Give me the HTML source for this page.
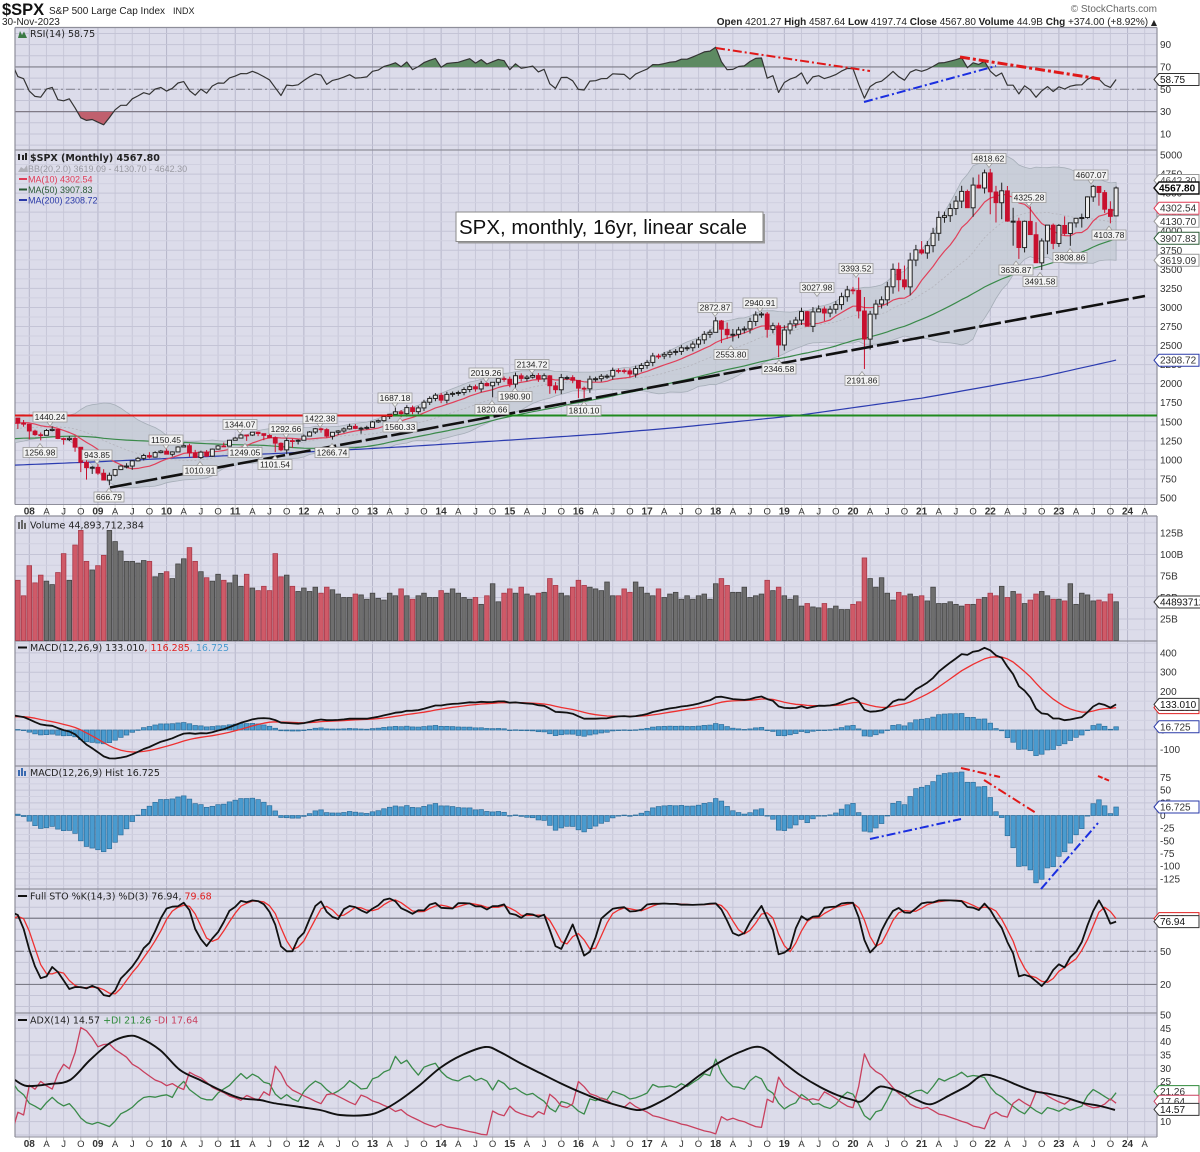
<!DOCTYPE html>
<html><head><meta charset="utf-8">
<style>
html,body{margin:0;padding:0;background:#fff;}
svg{display:block;}
text{font-family:"Liberation Sans",Arial,sans-serif;}
.lg{font-family:"DejaVu Sans","Liberation Sans",sans-serif;font-size:9.5px;fill:#222;}
.sm{font-family:"Liberation Sans",Arial,sans-serif;font-size:9px;}
.ax{font-size:10px;fill:#333;}
.pl{font-size:8.5px;fill:#222;}
.xl{font-size:9.5px;fill:#333;}
.b{font-weight:bold;font-size:10px;}
.vb text{font-size:10px;}
</style></head><body>
<svg id="c" width="1200" height="1152" viewBox="0 0 1200 1152" xmlns="http://www.w3.org/2000/svg">
<defs>
<clipPath id="cRsi"><rect x="15" y="27.5" width="1142" height="122.5"/></clipPath>
<clipPath id="cRsiHi"><rect x="15" y="27.5" width="1142" height="39.5"/></clipPath>
<clipPath id="cRsiLo"><rect x="15" y="111.7" width="1142" height="38.3"/></clipPath>
<clipPath id="cPrice"><rect x="15" y="150" width="1142" height="354.5"/></clipPath>
<clipPath id="cVol"><rect x="15" y="516" width="1142" height="125"/></clipPath>
<clipPath id="cMacd"><rect x="15" y="641" width="1142" height="125"/></clipPath>
<clipPath id="cHist"><rect x="15" y="766" width="1142" height="123"/></clipPath>
<clipPath id="cSto"><rect x="15" y="889" width="1142" height="124"/></clipPath>
<clipPath id="cAdx"><rect x="15" y="1013" width="1142" height="124"/></clipPath>
</defs>
<rect x="0" y="0" width="1200" height="1152" fill="#fff"/>
<g id="bg"></g>
<g id="grid"></g>
<g id="ser"></g>

<!-- horizontal support/resistance lines -->
<line x1="15" y1="415.5" x2="393" y2="415.5" stroke="#e01818" stroke-width="2"/>
<line x1="393" y1="415.5" x2="1157" y2="415.5" stroke="#1f8a1f" stroke-width="2"/>
<!-- trendline -->
<line x1="110" y1="487.5" x2="1145" y2="296" stroke="#111" stroke-width="2.6" stroke-dasharray="22 4"/>

<!-- RSI annotations -->
<line x1="716" y1="48" x2="870" y2="71" stroke="#e01818" stroke-width="2" stroke-dasharray="9 3 2 3"/>
<line x1="864" y1="102" x2="996" y2="66" stroke="#1a2ee0" stroke-width="2" stroke-dasharray="9 3 2 3"/>
<line x1="960" y1="57" x2="1100" y2="79" stroke="#e01818" stroke-width="3" stroke-dasharray="10 3 3 3"/>

<!-- Hist annotations -->
<line x1="870" y1="839" x2="961" y2="819" stroke="#1a2ee0" stroke-width="2" stroke-dasharray="9 3 2 3"/>
<line x1="961" y1="768" x2="1000" y2="777" stroke="#e01818" stroke-width="2" stroke-dasharray="9 3 2 3"/>
<line x1="984" y1="780" x2="1036" y2="813" stroke="#e01818" stroke-width="2" stroke-dasharray="9 3 2 3"/>
<line x1="1041" y1="889" x2="1098" y2="823" stroke="#1a2ee0" stroke-width="2" stroke-dasharray="9 3 2 3"/>
<line x1="1098" y1="776" x2="1110" y2="781" stroke="#e01818" stroke-width="2" stroke-dasharray="5 2"/>

<!-- Title box -->
<rect x="458" y="214" width="307" height="29.5" fill="#9a9a9a"/>
<rect x="456" y="212" width="307" height="29.5" fill="#fff" stroke="#8a8a8a" stroke-width="1"/>
<text x="459" y="234" font-size="20.5" fill="#111">SPX, monthly, 16yr, linear scale</text>

<!-- Price annotation labels -->
<g id="plabels" stroke-width="0.8">
<g><rect x="33" y="412" width="34" height="10" fill="#f2f2f2" stroke="#9a9a9a"/><path d="M47,422L50,426L53,422Z" fill="#f2f2f2" stroke="#9a9a9a"/><text class="pl" x="50" y="420" text-anchor="middle">1440.24</text></g>
<g><rect x="23" y="447.5" width="34" height="10" fill="#f2f2f2" stroke="#9a9a9a"/><path d="M37,447.5L40,443.5L43,447.5Z" fill="#f2f2f2" stroke="#9a9a9a"/><text class="pl" x="40" y="455.5" text-anchor="middle">1256.98</text></g>
<g><rect x="82" y="450" width="30" height="10" fill="#f2f2f2" stroke="#9a9a9a"/><path d="M94,460L97,464L100,460Z" fill="#f2f2f2" stroke="#9a9a9a"/><text class="pl" x="97" y="458" text-anchor="middle">943.85</text></g>
<g><rect x="94" y="492" width="30" height="10" fill="#f2f2f2" stroke="#9a9a9a"/><path d="M106,492L109,488L112,492Z" fill="#f2f2f2" stroke="#9a9a9a"/><text class="pl" x="109" y="500" text-anchor="middle">666.79</text></g>
<g><rect x="149" y="435" width="34" height="10" fill="#f2f2f2" stroke="#9a9a9a"/><path d="M163,445L166,449L169,445Z" fill="#f2f2f2" stroke="#9a9a9a"/><text class="pl" x="166" y="443" text-anchor="middle">1150.45</text></g>
<g><rect x="183" y="465.5" width="34" height="10" fill="#f2f2f2" stroke="#9a9a9a"/><path d="M197,465.5L200,461.5L203,465.5Z" fill="#f2f2f2" stroke="#9a9a9a"/><text class="pl" x="200" y="473.5" text-anchor="middle">1010.91</text></g>
<g><rect x="223" y="419.5" width="34" height="10" fill="#f2f2f2" stroke="#9a9a9a"/><path d="M237,429.5L240,433.5L243,429.5Z" fill="#f2f2f2" stroke="#9a9a9a"/><text class="pl" x="240" y="427.5" text-anchor="middle">1344.07</text></g>
<g><rect x="228" y="447.5" width="34" height="10" fill="#f2f2f2" stroke="#9a9a9a"/><path d="M242,447.5L245,443.5L248,447.5Z" fill="#f2f2f2" stroke="#9a9a9a"/><text class="pl" x="245" y="455.5" text-anchor="middle">1249.05</text></g>
<g><rect x="269" y="424" width="34" height="10" fill="#f2f2f2" stroke="#9a9a9a"/><path d="M283,434L286,438L289,434Z" fill="#f2f2f2" stroke="#9a9a9a"/><text class="pl" x="286" y="432" text-anchor="middle">1292.66</text></g>
<g><rect x="258" y="459.5" width="34" height="10" fill="#f2f2f2" stroke="#9a9a9a"/><path d="M272,459.5L275,455.5L278,459.5Z" fill="#f2f2f2" stroke="#9a9a9a"/><text class="pl" x="275" y="467.5" text-anchor="middle">1101.54</text></g>
<g><rect x="303" y="413.5" width="34" height="10" fill="#f2f2f2" stroke="#9a9a9a"/><path d="M317,423.5L320,427.5L323,423.5Z" fill="#f2f2f2" stroke="#9a9a9a"/><text class="pl" x="320" y="421.5" text-anchor="middle">1422.38</text></g>
<g><rect x="315" y="447.5" width="34" height="10" fill="#f2f2f2" stroke="#9a9a9a"/><path d="M329,447.5L332,443.5L335,447.5Z" fill="#f2f2f2" stroke="#9a9a9a"/><text class="pl" x="332" y="455.5" text-anchor="middle">1266.74</text></g>
<g><rect x="378" y="393" width="34" height="10" fill="#f2f2f2" stroke="#9a9a9a"/><path d="M392,403L395,407L398,403Z" fill="#f2f2f2" stroke="#9a9a9a"/><text class="pl" x="395" y="401" text-anchor="middle">1687.18</text></g>
<g><rect x="383" y="422" width="34" height="10" fill="#f2f2f2" stroke="#9a9a9a"/><path d="M397,422L400,418L403,422Z" fill="#f2f2f2" stroke="#9a9a9a"/><text class="pl" x="400" y="430" text-anchor="middle">1560.33</text></g>
<g><rect x="469" y="368" width="34" height="10" fill="#f2f2f2" stroke="#9a9a9a"/><path d="M483,378L486,382L489,378Z" fill="#f2f2f2" stroke="#9a9a9a"/><text class="pl" x="486" y="376" text-anchor="middle">2019.26</text></g>
<g><rect x="475" y="404.5" width="34" height="10" fill="#f2f2f2" stroke="#9a9a9a"/><path d="M489,404.5L492,400.5L495,404.5Z" fill="#f2f2f2" stroke="#9a9a9a"/><text class="pl" x="492" y="412.5" text-anchor="middle">1820.66</text></g>
<g><rect x="498" y="391.5" width="34" height="10" fill="#f2f2f2" stroke="#9a9a9a"/><path d="M512,391.5L515,387.5L518,391.5Z" fill="#f2f2f2" stroke="#9a9a9a"/><text class="pl" x="515" y="399.5" text-anchor="middle">1980.90</text></g>
<g><rect x="515" y="359.5" width="34" height="10" fill="#f2f2f2" stroke="#9a9a9a"/><path d="M529,369.5L532,373.5L535,369.5Z" fill="#f2f2f2" stroke="#9a9a9a"/><text class="pl" x="532" y="367.5" text-anchor="middle">2134.72</text></g>
<g><rect x="567" y="405.5" width="34" height="10" fill="#f2f2f2" stroke="#9a9a9a"/><path d="M581,405.5L584,401.5L587,405.5Z" fill="#f2f2f2" stroke="#9a9a9a"/><text class="pl" x="584" y="413.5" text-anchor="middle">1810.10</text></g>
<g><rect x="698" y="302.5" width="34" height="10" fill="#f2f2f2" stroke="#9a9a9a"/><path d="M712,312.5L715,316.5L718,312.5Z" fill="#f2f2f2" stroke="#9a9a9a"/><text class="pl" x="715" y="310.5" text-anchor="middle">2872.87</text></g>
<g><rect x="714" y="349.5" width="34" height="10" fill="#f2f2f2" stroke="#9a9a9a"/><path d="M728,349.5L731,345.5L734,349.5Z" fill="#f2f2f2" stroke="#9a9a9a"/><text class="pl" x="731" y="357.5" text-anchor="middle">2553.80</text></g>
<g><rect x="743" y="298" width="34" height="10" fill="#f2f2f2" stroke="#9a9a9a"/><path d="M757,308L760,312L763,308Z" fill="#f2f2f2" stroke="#9a9a9a"/><text class="pl" x="760" y="306" text-anchor="middle">2940.91</text></g>
<g><rect x="762" y="364" width="34" height="10" fill="#f2f2f2" stroke="#9a9a9a"/><path d="M776,364L779,360L782,364Z" fill="#f2f2f2" stroke="#9a9a9a"/><text class="pl" x="779" y="372" text-anchor="middle">2346.58</text></g>
<g><rect x="800" y="282.5" width="34" height="10" fill="#f2f2f2" stroke="#9a9a9a"/><path d="M814,292.5L817,296.5L820,292.5Z" fill="#f2f2f2" stroke="#9a9a9a"/><text class="pl" x="817" y="290.5" text-anchor="middle">3027.98</text></g>
<g><rect x="839" y="263.5" width="34" height="10" fill="#f2f2f2" stroke="#9a9a9a"/><path d="M853,273.5L856,277.5L859,273.5Z" fill="#f2f2f2" stroke="#9a9a9a"/><text class="pl" x="856" y="271.5" text-anchor="middle">3393.52</text></g>
<g><rect x="845" y="375.5" width="34" height="10" fill="#f2f2f2" stroke="#9a9a9a"/><path d="M859,375.5L862,371.5L865,375.5Z" fill="#f2f2f2" stroke="#9a9a9a"/><text class="pl" x="862" y="383.5" text-anchor="middle">2191.86</text></g>
<g><rect x="972" y="153.5" width="34" height="10" fill="#f2f2f2" stroke="#9a9a9a"/><path d="M986,163.5L989,167.5L992,163.5Z" fill="#f2f2f2" stroke="#9a9a9a"/><text class="pl" x="989" y="161.5" text-anchor="middle">4818.62</text></g>
<g><rect x="1012" y="192.5" width="34" height="10" fill="#f2f2f2" stroke="#9a9a9a"/><path d="M1026,202.5L1029,206.5L1032,202.5Z" fill="#f2f2f2" stroke="#9a9a9a"/><text class="pl" x="1029" y="200.5" text-anchor="middle">4325.28</text></g>
<g><rect x="999" y="265" width="34" height="10" fill="#f2f2f2" stroke="#9a9a9a"/><path d="M1013,265L1016,261L1019,265Z" fill="#f2f2f2" stroke="#9a9a9a"/><text class="pl" x="1016" y="273" text-anchor="middle">3636.87</text></g>
<g><rect x="1023" y="276.5" width="34" height="10" fill="#f2f2f2" stroke="#9a9a9a"/><path d="M1037,276.5L1040,272.5L1043,276.5Z" fill="#f2f2f2" stroke="#9a9a9a"/><text class="pl" x="1040" y="284.5" text-anchor="middle">3491.58</text></g>
<g><rect x="1053" y="252.5" width="34" height="10" fill="#f2f2f2" stroke="#9a9a9a"/><path d="M1067,252.5L1070,248.5L1073,252.5Z" fill="#f2f2f2" stroke="#9a9a9a"/><text class="pl" x="1070" y="260.5" text-anchor="middle">3808.86</text></g>
<g><rect x="1074" y="170" width="34" height="10" fill="#f2f2f2" stroke="#9a9a9a"/><path d="M1088,180L1091,184L1094,180Z" fill="#f2f2f2" stroke="#9a9a9a"/><text class="pl" x="1091" y="178" text-anchor="middle">4607.07</text></g>
<g><rect x="1092" y="230" width="34" height="10" fill="#f2f2f2" stroke="#9a9a9a"/><path d="M1106,230L1109,226L1112,230Z" fill="#f2f2f2" stroke="#9a9a9a"/><text class="pl" x="1109" y="238" text-anchor="middle">4103.78</text></g>
</g>

<!-- Header -->
<text x="2" y="15" font-size="16.5" font-weight="bold" fill="#111">$SPX</text>
<text x="49" y="14" font-size="10" fill="#222">S&amp;P 500 Large Cap Index</text>
<text x="173" y="14" font-size="9" fill="#222">INDX</text>
<text x="2" y="25" font-size="10" fill="#222">30-Nov-2023</text>
<text x="1157" y="12" font-size="10" fill="#666" text-anchor="end">© StockCharts.com</text>
<text x="1157" y="25" font-size="10" fill="#222" text-anchor="end"><tspan font-weight="bold">Open</tspan> 4201.27 <tspan font-weight="bold">High</tspan> 4587.64 <tspan font-weight="bold">Low</tspan> 4197.74 <tspan font-weight="bold">Close</tspan> 4567.80 <tspan font-weight="bold">Volume</tspan> 44.9B <tspan font-weight="bold">Chg</tspan> +374.00 (+8.92%) <tspan font-family="DejaVu Sans" font-size="8">▲</tspan></text>

<!-- Legends -->
<path d="M18,38L20,31L22,35L24,31.5L27,38Z" fill="#3b7a45"/>
<text class="lg" x="30" y="37">RSI(14) 58.75</text>

<g fill="#222"><rect x="18" y="154" width="2" height="6"/><rect x="22" y="155" width="2" height="5"/><rect x="25" y="153" width="2" height="7"/></g>
<text class="lg" x="30" y="161" font-weight="bold">$SPX (Monthly) 4567.80</text>
<path d="M18,172L21,167L24,169L27,165L28,172Z" fill="#b0b0b8"/>
<text class="sm" x="28" y="172" fill="#9a9aa2">BB(20,2.0) 3619.09 - 4130.70 - 4642.30</text>
<line x1="19" y1="179" x2="27" y2="179" stroke="#e03a55" stroke-width="2"/>
<text class="sm" x="28" y="182.5" fill="#e03a55" font-size="9.5">MA(10) 4302.54</text>
<line x1="19" y1="189.5" x2="27" y2="189.5" stroke="#2a5a35" stroke-width="2"/>
<text class="sm" x="28" y="193" fill="#2a5a35" font-size="9.5">MA(50) 3907.83</text>
<line x1="19" y1="200" x2="27" y2="200" stroke="#2a3aa8" stroke-width="2"/>
<text class="sm" x="28" y="203.5" fill="#2a3aa8" font-size="9.5">MA(200) 2308.72</text>

<g fill="#666"><rect x="18" y="522" width="2" height="7"/><rect x="21" y="520" width="2" height="9"/><rect x="24" y="523" width="2" height="6"/></g>
<text class="lg" x="30" y="528.5">Volume 44,893,712,384</text>

<line x1="18" y1="647.5" x2="27" y2="647.5" stroke="#111" stroke-width="2"/>
<text class="lg" x="30" y="651">MACD(12,26,9) 133.010<tspan fill="#e02020">, 116.285</tspan><tspan fill="#4a9bd0">, 16.725</tspan></text>

<g fill="#3a6ab0"><rect x="18" y="770" width="2" height="6"/><rect x="21" y="768" width="2" height="8"/><rect x="24" y="771" width="2" height="5"/></g>
<text class="lg" x="30" y="776">MACD(12,26,9) Hist 16.725</text>

<line x1="18" y1="896" x2="27" y2="896" stroke="#111" stroke-width="2"/>
<text class="lg" x="30" y="899.5">Full STO %K(14,3) %D(3) 76.94,<tspan fill="#e02020"> 79.68</tspan></text>

<g id="adxser"></g>
<line x1="18" y1="1020" x2="27" y2="1020" stroke="#111" stroke-width="2"/>
<text class="lg" x="30" y="1023.5">ADX(14) 14.57 <tspan fill="#2e8a3a">+DI 21.26</tspan> <tspan fill="#c8405e">-DI 17.64</tspan></text>

<!-- Right axis labels -->
<g class="ax">
<text x="1160" y="48">90</text><text x="1160" y="70.5">70</text><text x="1160" y="92.8">50</text><text x="1160" y="115">30</text><text x="1160" y="137.5">10</text>
<text x="1160" y="158.5">5000</text><text x="1160" y="177.6">4750</text><text x="1160" y="196.6">4500</text><text x="1160" y="215.7">4250</text><text x="1160" y="234.7">4000</text><text x="1160" y="253.8">3750</text><text x="1160" y="272.8">3500</text><text x="1160" y="291.9">3250</text><text x="1160" y="311">3000</text><text x="1160" y="330">2750</text><text x="1160" y="349.1">2500</text><text x="1160" y="368.1">2250</text><text x="1160" y="387.2">2000</text><text x="1160" y="406.2">1750</text><text x="1160" y="425.3">1500</text><text x="1160" y="444.3">1250</text><text x="1160" y="463.4">1000</text><text x="1160" y="482.4">750</text><text x="1160" y="501.5">500</text>
<text x="1160" y="536.5">125B</text><text x="1160" y="558">100B</text><text x="1160" y="579.5">75B</text><text x="1160" y="601">50B</text><text x="1160" y="622.5">25B</text>
<text x="1160" y="656.4">400</text><text x="1160" y="675.7">300</text><text x="1160" y="695">200</text><text x="1160" y="714.2">100</text><text x="1160" y="733.5">0</text><text x="1160" y="752.8">-100</text>
<text x="1160" y="781">75</text><text x="1160" y="793.7">50</text><text x="1160" y="806.3">25</text><text x="1160" y="819">0</text><text x="1160" y="831.7">-25</text><text x="1160" y="844.4">-50</text><text x="1160" y="857">-75</text><text x="1160" y="869.7">-100</text><text x="1160" y="882.4">-125</text>
<text x="1160" y="921.8">80</text><text x="1160" y="954.9">50</text><text x="1160" y="987.9">20</text>
<text x="1160" y="1018.5">50</text><text x="1160" y="1031.8">45</text><text x="1160" y="1045.1">40</text><text x="1160" y="1058.5">35</text><text x="1160" y="1071.8">30</text><text x="1160" y="1085.1">25</text><text x="1160" y="1098.5">20</text><text x="1160" y="1111.8">15</text><text x="1160" y="1125.1">10</text>
</g>

<!-- Value boxes -->
<g class="vb" stroke-width="1">
<path d="M1154,79.5L1159,73.5L1199,73.5L1199,85.5L1159,85.5Z" fill="#fff" stroke="#333"/><text x="1160" y="83" fill="#111">58.75</text>
<path d="M1154,180.5L1159,174.5L1199,174.5L1199,186.5L1159,186.5Z" fill="#fff" stroke="#999"/><text x="1160" y="184" fill="#555">4642.30</text>
<path d="M1154,188L1159,182L1199,182L1199,194L1159,194Z" fill="#fff" stroke="#111" stroke-width="1.4"/><text x="1159" y="191.5" fill="#000" font-weight="bold">4567.80</text>
<path d="M1154,208.2L1159,202.2L1199,202.2L1199,214.2L1159,214.2Z" fill="#fff" stroke="#e03a55"/><text x="1160" y="211.7" fill="#333">4302.54</text>
<path d="M1154,221.3L1159,215.3L1199,215.3L1199,227.3L1159,227.3Z" fill="#fff" stroke="#999"/><text x="1160" y="224.8" fill="#333">4130.70</text>
<path d="M1154,238.3L1159,232.3L1199,232.3L1199,244.3L1159,244.3Z" fill="#fff" stroke="#2a5a35"/><text x="1160" y="241.8" fill="#333">3907.83</text>
<path d="M1154,260.3L1159,254.3L1199,254.3L1199,266.3L1159,266.3Z" fill="#fff" stroke="#999"/><text x="1160" y="263.8" fill="#333">3619.09</text>
<path d="M1154,360.2L1159,354.2L1199,354.2L1199,366.2L1159,366.2Z" fill="#fff" stroke="#2a3aa8"/><text x="1160" y="363.7" fill="#333">2308.72</text>
<path d="M1154,602L1159,596L1202,596L1202,608L1159,608Z" fill="#fff" stroke="#333"/><text x="1160" y="605.5" fill="#111">44893712384</text>
<path d="M1154,707.6L1159,701.6L1199,701.6L1199,713.6L1159,713.6Z" fill="#fff" stroke="#e02020"/><text x="1160" y="711.1" fill="#e02020">116.285</text>
<path d="M1154,704.4L1159,698.4L1199,698.4L1199,710.4L1159,710.4Z" fill="#fff" stroke="#333"/><text x="1160" y="707.9" fill="#111">133.010</text>
<path d="M1154,726.8L1159,720.8L1199,720.8L1199,732.8L1159,732.8Z" fill="#fff" stroke="#2a3aa8"/><text x="1160" y="730.3" fill="#333">16.725</text>
<path d="M1154,807L1159,801L1199,801L1199,813L1159,813Z" fill="#fff" stroke="#2a3aa8"/><text x="1160" y="810.5" fill="#333">16.725</text>
<path d="M1154,918.6L1159,912.6L1199,912.6L1199,924.6L1159,924.6Z" fill="#fff" stroke="#e02020"/><text x="1160" y="922.1" fill="#e02020">79.68</text>
<path d="M1154,921.6L1159,915.6L1199,915.6L1199,927.6L1159,927.6Z" fill="#fff" stroke="#333"/><text x="1160" y="925.1" fill="#111">76.94</text>
<path d="M1154,1091.6L1159,1085.6L1199,1085.6L1199,1097.6L1159,1097.6Z" fill="#fff" stroke="#2e8a3a"/><text x="1160" y="1095.1" fill="#333">21.26</text>
<path d="M1154,1101.3L1159,1095.3L1199,1095.3L1199,1107.3L1159,1107.3Z" fill="#fff" stroke="#c8405e"/><text x="1160" y="1104.8" fill="#333">17.64</text>
<path d="M1154,1109.4L1159,1103.4L1199,1103.4L1199,1115.4L1159,1115.4Z" fill="#fff" stroke="#333"/><text x="1160" y="1112.9" fill="#111">14.57</text>
</g>

<!-- X axis labels -->
<text class="xl" y="514.5" text-anchor="middle"><tspan class="b" x="29.3">08</tspan><tspan x="46.5">A</tspan><tspan x="63.6">J</tspan><tspan x="80.8">O</tspan><tspan class="b" x="97.9">09</tspan><tspan x="115.1">A</tspan><tspan x="132.3">J</tspan><tspan x="149.4">O</tspan><tspan class="b" x="166.6">10</tspan><tspan x="183.7">A</tspan><tspan x="200.9">J</tspan><tspan x="218.1">O</tspan><tspan class="b" x="235.2">11</tspan><tspan x="252.4">A</tspan><tspan x="269.5">J</tspan><tspan x="286.7">O</tspan><tspan class="b" x="303.9">12</tspan><tspan x="321">A</tspan><tspan x="338.2">J</tspan><tspan x="355.3">O</tspan><tspan class="b" x="372.5">13</tspan><tspan x="389.7">A</tspan><tspan x="406.8">J</tspan><tspan x="424">O</tspan><tspan class="b" x="441.1">14</tspan><tspan x="458.3">A</tspan><tspan x="475.5">J</tspan><tspan x="492.6">O</tspan><tspan class="b" x="509.8">15</tspan><tspan x="526.9">A</tspan><tspan x="544.1">J</tspan><tspan x="561.3">O</tspan><tspan class="b" x="578.4">16</tspan><tspan x="595.6">A</tspan><tspan x="612.7">J</tspan><tspan x="629.9">O</tspan><tspan class="b" x="647.1">17</tspan><tspan x="664.2">A</tspan><tspan x="681.4">J</tspan><tspan x="698.5">O</tspan><tspan class="b" x="715.7">18</tspan><tspan x="732.9">A</tspan><tspan x="750">J</tspan><tspan x="767.2">O</tspan><tspan class="b" x="784.3">19</tspan><tspan x="801.5">A</tspan><tspan x="818.7">J</tspan><tspan x="835.8">O</tspan><tspan class="b" x="853">20</tspan><tspan x="870.1">A</tspan><tspan x="887.3">J</tspan><tspan x="904.5">O</tspan><tspan class="b" x="921.6">21</tspan><tspan x="938.8">A</tspan><tspan x="955.9">J</tspan><tspan x="973.1">O</tspan><tspan class="b" x="990.3">22</tspan><tspan x="1007.4">A</tspan><tspan x="1024.6">J</tspan><tspan x="1041.7">O</tspan><tspan class="b" x="1058.9">23</tspan><tspan x="1076.1">A</tspan><tspan x="1093.2">J</tspan><tspan x="1110.4">O</tspan><tspan class="b" x="1127.5">24</tspan><tspan x="1144.7">A</tspan></text>
<text class="xl" y="1147" text-anchor="middle"><tspan class="b" x="29.3">08</tspan><tspan x="46.5">A</tspan><tspan x="63.6">J</tspan><tspan x="80.8">O</tspan><tspan class="b" x="97.9">09</tspan><tspan x="115.1">A</tspan><tspan x="132.3">J</tspan><tspan x="149.4">O</tspan><tspan class="b" x="166.6">10</tspan><tspan x="183.7">A</tspan><tspan x="200.9">J</tspan><tspan x="218.1">O</tspan><tspan class="b" x="235.2">11</tspan><tspan x="252.4">A</tspan><tspan x="269.5">J</tspan><tspan x="286.7">O</tspan><tspan class="b" x="303.9">12</tspan><tspan x="321">A</tspan><tspan x="338.2">J</tspan><tspan x="355.3">O</tspan><tspan class="b" x="372.5">13</tspan><tspan x="389.7">A</tspan><tspan x="406.8">J</tspan><tspan x="424">O</tspan><tspan class="b" x="441.1">14</tspan><tspan x="458.3">A</tspan><tspan x="475.5">J</tspan><tspan x="492.6">O</tspan><tspan class="b" x="509.8">15</tspan><tspan x="526.9">A</tspan><tspan x="544.1">J</tspan><tspan x="561.3">O</tspan><tspan class="b" x="578.4">16</tspan><tspan x="595.6">A</tspan><tspan x="612.7">J</tspan><tspan x="629.9">O</tspan><tspan class="b" x="647.1">17</tspan><tspan x="664.2">A</tspan><tspan x="681.4">J</tspan><tspan x="698.5">O</tspan><tspan class="b" x="715.7">18</tspan><tspan x="732.9">A</tspan><tspan x="750">J</tspan><tspan x="767.2">O</tspan><tspan class="b" x="784.3">19</tspan><tspan x="801.5">A</tspan><tspan x="818.7">J</tspan><tspan x="835.8">O</tspan><tspan class="b" x="853">20</tspan><tspan x="870.1">A</tspan><tspan x="887.3">J</tspan><tspan x="904.5">O</tspan><tspan class="b" x="921.6">21</tspan><tspan x="938.8">A</tspan><tspan x="955.9">J</tspan><tspan x="973.1">O</tspan><tspan class="b" x="990.3">22</tspan><tspan x="1007.4">A</tspan><tspan x="1024.6">J</tspan><tspan x="1041.7">O</tspan><tspan class="b" x="1058.9">23</tspan><tspan x="1076.1">A</tspan><tspan x="1093.2">J</tspan><tspan x="1110.4">O</tspan><tspan class="b" x="1127.5">24</tspan><tspan x="1144.7">A</tspan></text>
</svg>
<script>
(function(){
var NS="http://www.w3.org/2000/svg";
function el(p,t,a){var e=document.createElementNS(NS,t);for(var k in a)e.setAttribute(k,a[k]);p.appendChild(e);return e;}
var gBg=document.getElementById('bg'),gGr=document.getElementById('grid'),gS=document.getElementById('ser'),gAdx=document.getElementById('adxser');
var XL=15,XR=1157;
var PN={rsi:[27.5,150],price:[150,504.5],vol:[516,641],macd:[641,766],hist:[766,889],sto:[889,1013],adx:[1013,1137]};
for(var k in PN){var p=PN[k];el(gBg,'rect',{x:XL,y:p[0],width:XR-XL,height:p[1]-p[0],fill:'#dcdcea'});}
for(var m=0;m<=195;m+=3){var x=29.3+m*5.72;if(x>XR)break;var yr=(m%12==0);
 var col=yr?'#b6b6ca':'#c7c7d8';
 el(gGr,'line',{x1:x,y1:27.5,x2:x,y2:504.5,stroke:col,'stroke-width':1});
 el(gGr,'line',{x1:x,y1:516,x2:x,y2:1137,stroke:col,'stroke-width':1});
 el(gGr,'line',{x1:x,y1:504.5,x2:x,y2:516,stroke:'#dadada','stroke-width':1});
 el(gGr,'line',{x1:x,y1:1137,x2:x,y2:1140,stroke:'#bbb','stroke-width':1});
}
var yR=function(v){return 89.3-(v-50)*1.117;};
var yP=function(v){return 498-(v-500)*0.07622;};
var yV=function(v){return 640.5-v*0.86;};
var yM=function(v){return 730-v*0.1927;};
var yH=function(v){return 815.5-v*0.507;};
var yS=function(v){return 1006.5-v*1.103;};
var yA=function(v){return 1148.3-v*2.667;};
function hgrid(pn,yf,from,to,step,majorEvery){var p=PN[pn];var n=0;
 for(var v=from;v<=to+1e-9;v+=step,n++){var y=yf(v);if(y<=p[0]+1||y>=p[1]-1)continue;
  var maj=(n%majorEvery==0);
  el(gGr,'line',{x1:XL,y1:y,x2:XR,y2:y,stroke:maj?'#c4c4d6':'#d0d0e0','stroke-width':1});}}
hgrid('rsi',yR,0,100,10,1);
hgrid('price',yP,250,5250,125,2);
hgrid('vol',yV,0,150,12.5,2);
hgrid('macd',yM,-500,500,50,2);
hgrid('hist',yH,-200,150,12.5,2);
hgrid('sto',yS,-10,110,10,1);
hgrid('adx',yA,0,60,5,1);
function hl(y,dash,col){var a={x1:XL,y1:y,x2:XR,y2:y,stroke:col||'#7c7c88','stroke-width':1.2};if(dash)a['stroke-dasharray']='9 3 2 3';el(gGr,'line',a);}
hl(yR(70));hl(yR(30));hl(yR(50),1,'#8a8a96');
hl(yS(80));hl(yS(20));hl(yS(50),1,'#8a8a96');
for(var k in PN){var p=PN[k];el(gGr,'line',{x1:XL,y1:p[0],x2:XR,y2:p[0],stroke:'#8e8e9a','stroke-width':1.2});el(gGr,'line',{x1:XL,y1:p[1],x2:XR,y2:p[1],stroke:'#8e8e9a','stroke-width':1});}
el(gGr,'line',{x1:XL,y1:27.5,x2:XL,y2:504.5,stroke:'#8e8e9a','stroke-width':1.2});
el(gGr,'line',{x1:XL,y1:516,x2:XL,y2:1137,stroke:'#8e8e9a','stroke-width':1.2});
el(gGr,'line',{x1:XR,y1:27.5,x2:XR,y2:504.5,stroke:'#8e8e9a','stroke-width':1.2});
el(gGr,'line',{x1:XR,y1:516,x2:XR,y2:1137,stroke:'#8e8e9a','stroke-width':1.2});

var C=[1131.13,1144.94,1126.21,1107.30,1120.68,1140.84,1101.72,1104.24,1114.58,1130.20,1173.82,1211.92,
1181.27,1203.60,1180.59,1156.85,1191.50,1191.33,1234.18,1220.33,1228.81,1207.01,1249.48,1248.29,
1280.08,1280.66,1294.83,1310.61,1270.09,1270.20,1276.66,1303.82,1335.85,1377.94,1400.63,1418.30,
1438.24,1406.82,1420.86,1482.37,1530.62,1503.35,1455.27,1473.99,1526.75,1549.38,1481.14,1468.36,
1378.55,1330.63,1322.70,1385.59,1400.38,1280.00,1267.38,1282.83,1166.36,968.75,896.24,903.25,
825.88,735.09,797.87,872.81,919.14,919.32,987.48,1020.62,1057.08,1036.19,1095.63,1115.10,
1073.87,1104.49,1169.43,1186.69,1089.41,1030.71,1101.60,1049.33,1141.20,1183.26,1180.55,1257.64,
1286.12,1327.22,1325.83,1363.61,1345.20,1320.64,1292.28,1218.89,1131.42,1253.30,1246.96,1257.60,
1312.41,1365.68,1408.47,1397.91,1310.33,1362.16,1379.32,1406.58,1440.67,1412.16,1416.18,1426.19,
1498.11,1514.68,1569.19,1597.57,1630.74,1606.28,1685.73,1632.97,1681.55,1756.54,1805.81,1848.36,
1782.59,1859.45,1872.34,1883.95,1923.57,1960.23,1930.67,2003.37,1972.29,2018.05,2067.56,2058.90,
1994.99,2104.50,2067.89,2085.51,2107.39,2063.11,2103.84,1972.18,1920.03,2079.36,2080.41,2043.94,
1940.24,1932.23,2059.74,2065.30,2096.95,2098.86,2173.60,2170.95,2168.27,2126.15,2198.81,2238.83,
2278.87,2363.64,2362.72,2384.20,2411.80,2423.41,2470.30,2471.65,2519.36,2575.26,2647.58,2673.61,
2823.81,2713.83,2640.87,2648.05,2705.27,2718.37,2816.29,2901.52,2913.98,2711.74,2760.17,2506.85,
2704.10,2784.49,2834.40,2945.83,2752.06,2941.76,2980.38,2926.46,2976.74,3037.56,3140.98,3230.78,
3225.52,2954.22,2584.59,2912.43,3044.31,3100.29,3271.12,3500.31,3363.00,3269.96,3621.63,3756.07,
3714.24,3811.15,3972.89,4181.17,4204.11,4297.50,4395.26,4522.68,4307.54,4605.38,4567.00,4766.18,
4515.55,4373.94,4530.41,4131.93,4132.15,3785.38,4130.29,3955.00,3585.62,3871.98,4080.11,3839.50,
4076.60,3970.15,4109.31,4169.48,4179.83,4450.38,4588.96,4507.66,4288.05,4193.80,4567.80];
var N=C.length;
function X(i){return 29.3+(i-48)*5.72;}
function idx(y,m){return (y-2004)*12+(m-1);}
var O=[],H=[],L=[];
for(var i=0;i<N;i++){O[i]=i?C[i-1]:C[i]*0.99;var o=O[i],c=C[i],r=Math.abs(c-o);
 H[i]=Math.max(o,c)+0.012*c+0.15*r;L[i]=Math.min(o,c)-0.016*c-0.15*r;}
O[idx(2023,11)]=4201.27;
var OV={"2007-11":[1545.79,1406.10],"2007-12":[1523.57,1435.65],"2008-01":[1471.77,1270.05],"2008-02":[1396.02,1316.75],"2008-03":[1359.68,1256.98],"2008-04":[1404.57,1324.35],"2008-05":[1440.24,1373.72],"2008-06":[1404.05,1272.00],"2008-07":[1292.17,1200.44],"2008-08":[1313.15,1247.45],"2008-09":[1303.04,1106.42],"2008-10":[1167.03,839.80],"2008-11":[1007.51,741.02],"2008-12":[918.85,815.69],
"2009-01":[943.85,804.30],"2009-02":[877.86,734.52],"2009-03":[832.98,666.79],"2009-04":[876.93,783.32],"2009-05":[930.17,866.10],"2009-06":[956.23,888.86],"2009-07":[996.68,869.32],"2009-08":[1039.47,978.51],"2009-09":[1080.15,991.97],"2009-10":[1101.36,1020.18],"2009-11":[1113.69,1029.38],"2009-12":[1130.38,1085.89],
"2010-01":[1150.45,1071.59],"2010-02":[1112.42,1044.50],"2010-03":[1180.16,1105.36],"2010-04":[1219.80,1170.69],"2010-05":[1212.00,1040.78],"2010-06":[1131.23,1028.33],"2010-07":[1120.95,1010.91],"2010-08":[1129.24,1039.70],"2010-09":[1148.67,1039.70],"2010-10":[1196.14,1131.87],"2010-11":[1227.08,1173.00],"2010-12":[1262.60,1186.60],
"2011-01":[1302.67,1257.62],"2011-02":[1344.07,1289.14],"2011-03":[1332.28,1249.05],"2011-04":[1366.60,1312.70],"2011-05":[1370.58,1311.80],"2011-06":[1345.20,1258.07],"2011-07":[1356.48,1282.86],"2011-08":[1307.38,1101.54],"2011-09":[1229.29,1114.22],"2011-10":[1292.66,1074.77],"2011-11":[1277.55,1158.66],"2011-12":[1269.37,1202.37],
"2012-01":[1333.47,1258.86],"2012-02":[1378.04,1312.41],"2012-03":[1419.15,1340.03],"2012-04":[1422.38,1357.38],"2012-05":[1415.32,1291.98],"2012-06":[1363.46,1266.74],"2012-07":[1391.74,1325.41],"2012-08":[1426.68,1354.65],"2012-09":[1474.51,1396.56],"2012-10":[1470.96,1403.28],"2012-11":[1434.27,1343.35],"2012-12":[1448.00,1398.11],
"2013-01":[1509.94,1426.19],"2013-02":[1530.94,1485.01],"2013-03":[1570.28,1501.48],"2013-04":[1597.57,1536.03],"2013-05":[1687.18,1581.28],"2013-06":[1654.19,1560.33],
"2014-09":[2019.26,1964],"2014-10":[2018.19,1820.66],"2015-05":[2134.72,2067.9],"2015-08":[2112.66,1867.01],"2015-09":[2020.86,1871.91],"2016-01":[2038.2,1812.29],"2016-02":[1962.96,1810.10],
"2018-01":[2872.87,2682.36],"2018-02":[2835.96,2532.69],"2018-03":[2801.90,2585.89],"2018-04":[2717.49,2553.80],"2018-09":[2940.91,2864],"2018-10":[2939.86,2603.54],"2018-12":[2800.18,2346.58],
"2019-05":[2954.13,2750.52],"2019-07":[3027.98,2959],"2019-08":[3013.59,2822.12],"2020-02":[3393.52,2855.84],"2020-03":[3136.72,2191.86],"2020-04":[2954.86,2447.49],"2020-09":[3588.11,3209.45],"2020-10":[3549.85,3233.94],
"2021-01":[3870.9,3694.12],"2021-09":[4545.85,4305.91],"2021-11":[4743.83,4560.00],"2021-12":[4808.93,4495.12],
"2022-01":[4818.62,4222.62],"2022-02":[4595.31,4114.65],"2022-03":[4637.30,4157.87],"2022-04":[4593.45,4124.28],"2022-05":[4307.66,3810.32],"2022-06":[4177.51,3636.87],"2022-07":[4140.15,3721.56],"2022-08":[4325.28,3954.53],"2022-09":[4119.28,3584.13],"2022-10":[3905.42,3491.58],"2022-11":[4080.11,3698.15],"2022-12":[4100.96,3764.49],
"2023-01":[4094.21,3794.33],"2023-02":[4195.44,3943.08],"2023-03":[4110.75,3808.86],"2023-04":[4170.15,4049],"2023-05":[4231,4048],"2023-06":[4458,4166],"2023-07":[4607.07,4385],"2023-08":[4584,4335],"2023-09":[4541,4238],"2023-10":[4393,4103.78],"2023-11":[4587.64,4197.74]};
for(var kk in OV){var s=kk.split('-');var ii=idx(+s[0],+s[1]);H[ii]=OV[kk][0];L[ii]=OV[kk][1];}
for(var i=0;i<N;i++){H[i]=Math.max(H[i],O[i],C[i]);L[i]=Math.min(L[i],O[i],C[i]);}
var V=[70,52,87,67,76,69,65,79,101,70,111,128,92,82,87,99,128,115,104,92,92,90,93,92,74,78,80,72,89,95,108,92,80,73,69,77,70,67,76,63,77,61,58,63,58,101,74,76,63,57,61,57,62,55,62,59,54,50,50,54,53,48,55,49,47,55,52,
60,52,48,52,55,50,50, 58,55,60,55,50,48,50,42,52,66,45,55, 60,55,62,54,52,55,56,72,64,55,52,62, 70,64,62,60,58,68,52,52,60,56,68,62, 55,52,60,50,54,56,48,52,48,52,54,48, 66,72,64,56,56,62,50,52,54,70,58,62, 52,48,52,
40,43,39,38,43,37,40,36,36, 42,45,96,72,62,73,55,47,56,52,54,51, 52,46,62,43,43,45,42,40,42,42,48,50, 55,52,63,50,57,54,43,47,54,57,52,48, 48,46,66,42,55,53,46,47,45,54,45];
var S0=46,D0=45;

function smaP(a,n){var o=[];for(var i=0;i<a.length;i++){var s=0,c=0;for(var j=Math.max(0,i-n+1);j<=i;j++){if(a[j]!=null){s+=a[j];c++;}}o.push(c?s/c:null);}return o;}
function ema(a,n){var o=[],k=2/(n+1),p=null;for(var i=0;i<a.length;i++){var v=a[i];if(v==null){o.push(null);continue;}p=(p==null)?v:p+k*(v-p);o.push(p);}return o;}
var MA10=smaP(C,10),MA50=smaP(C,50);
var BBu=[],BBl=[],BBm=[];
for(var i=0;i<N;i++){var s=0,c=0;for(var j=Math.max(0,i-19);j<=i;j++){s+=C[j];c++;}var mu=s/c,q=0;for(var j=Math.max(0,i-19);j<=i;j++){q+=(C[j]-mu)*(C[j]-mu);}var sd=Math.sqrt(q/c);BBm.push(mu);BBu.push(mu+2*sd);BBl.push(mu-2*sd);}
var RSI=[],ag=0,al=0;
for(var i=1;i<N;i++){var d=C[i]-C[i-1],u=Math.max(d,0),dn=Math.max(-d,0);
 if(i<=14){ag+=u;al+=dn;if(i==14){ag/=14;al/=14;RSI[i]=100-100/(1+ag/al);}}
 else{ag=(ag*13+u)/14;al=(al*13+dn)/14;RSI[i]=100-100/(1+ag/al);}}
var e12=ema(C,12),e26=ema(C,26),MACD=[];for(var i=0;i<N;i++)MACD.push(e12[i]-e26[i]);
var SIG=ema(MACD,9),HIST=[];for(var i=0;i<N;i++)HIST.push(MACD[i]-SIG[i]);
var RK=[];for(var i=0;i<N;i++){if(i<13){RK.push(null);continue;}var hh=-1e9,ll=1e9;for(var j=i-13;j<=i;j++){hh=Math.max(hh,H[j]);ll=Math.min(ll,L[j]);}RK.push((C[i]-ll)/(hh-ll)*100);}
function sma3(a){var o=[];for(var i=0;i<a.length;i++){if(i<2||a[i]==null||a[i-1]==null||a[i-2]==null){o.push(null);continue;}o.push((a[i]+a[i-1]+a[i-2])/3);}return o;}
var FK=sma3(RK),FD=sma3(FK);
var sTR=0,sP=0,sM=0,PDI=[],MDI=[];
for(var i=1;i<N;i++){var tr=Math.max(H[i]-L[i],Math.abs(H[i]-C[i-1]),Math.abs(L[i]-C[i-1]));var up=H[i]-H[i-1],dw=L[i-1]-L[i];
 var pdm=(up>dw&&up>0)?up:0,mdm=(dw>up&&dw>0)?dw:0;
 if(i<=14){sTR+=tr;sP+=pdm;sM+=mdm;if(i<14)continue;}else{sTR=sTR-sTR/14+tr;sP=sP-sP/14+pdm;sM=sM-sM/14+mdm;}
 PDI[i]=100*sP/sTR;MDI[i]=100*sM/sTR;}
var MP=[[-3,930],[12,975],[30,1040],[45,1090],[65,1170],[84,1260],[100,1340],[114,1430],[134,1580],[156,1810],[177,2090],[190,2308.72]];
var MA200=[];for(var i=0;i<N;i++){var m=i-48;var v=null;for(var j=0;j<MP.length-1;j++){if(m>=MP[j][0]&&m<=MP[j+1][0]){var t=(m-MP[j][0])/(MP[j+1][0]-MP[j][0]);v=MP[j][1]+t*(MP[j+1][1]-MP[j][1]);}}MA200.push(v);}

function pth(a,yf,from){var d='';for(var i=from;i<N;i++){if(a[i]==null||isNaN(a[i]))continue;d+=(d?'L':'M')+X(i).toFixed(1)+','+yf(a[i]).toFixed(1);}return d;}
function line(a,yf,clip,stroke,w,extra,grp){var at={d:pth(a,yf,D0),fill:'none',stroke:stroke,'stroke-width':w,'clip-path':'url(#'+clip+')','stroke-linejoin':'round'};if(extra)for(var k in extra)at[k]=extra[k];el(grp||gS,'path',at);}

var rd=pth(RSI,yR,D0);
el(gS,'path',{d:rd+'L'+X(N-1)+','+yR(70)+'L'+X(D0)+','+yR(70)+'Z',fill:'#5d8a62','clip-path':'url(#cRsiHi)'});
el(gS,'path',{d:rd+'L'+X(N-1)+','+yR(30)+'L'+X(D0)+','+yR(30)+'Z',fill:'#c0606e','clip-path':'url(#cRsiLo)'});
line(RSI,yR,'cRsi','#333',1.2);

var bd='';for(var i=D0;i<N;i++)bd+=(bd?'L':'M')+X(i).toFixed(1)+','+yP(BBu[i]).toFixed(1);
for(var i=N-1;i>=D0;i--)bd+='L'+X(i).toFixed(1)+','+yP(BBl[i]).toFixed(1);bd+='Z';
el(gS,'path',{d:bd,fill:'#c3cad3','fill-opacity':0.75,stroke:'#a6aeb8','stroke-width':0.8,'clip-path':'url(#cPrice)'});
line(BBm,yP,'cPrice','#b4b4bc',0.8,{'stroke-dasharray':'2 2'});
line(MA200,yP,'cPrice','#2c3cb0',1.2);
line(MA50,yP,'cPrice','#3a8a4a',1.2);
line(MA10,yP,'cPrice','#e0405a',1.2);

var gc=el(gS,'g',{'clip-path':'url(#cPrice)'});
for(var i=S0;i<N;i++){var x=X(i),o=O[i],c=C[i];var down=c<C[i-1];var col=down?'#c8102e':'#222';
 el(gc,'line',{x1:x,y1:yP(H[i]),x2:x,y2:yP(L[i]),stroke:col,'stroke-width':1});
 var yt=yP(Math.max(o,c)),yb=yP(Math.min(o,c));var h=Math.max(yb-yt,1);
 if(c<o){el(gc,'rect',{x:x-2,y:yt,width:4,height:h,fill:col,stroke:col,'stroke-width':0.8});}
 else{el(gc,'rect',{x:x-2,y:yt,width:4,height:h,fill:'#ececec',stroke:col,'stroke-width':1});}
}
var gv=el(gS,'g',{'clip-path':'url(#cVol)'});
for(var i=S0;i<N;i++){var v=V[i-S0];var x=X(i);var down=C[i]<C[i-1];var y=yV(v);
 el(gv,'rect',{x:x-2.3,y:y,width:4.6,height:640.5-y,fill:down?'#cf5a68':'#6e6e6e',stroke:down?'#a83a4a':'#444','stroke-width':0.8});}
var gm=el(gS,'g',{'clip-path':'url(#cMacd)'});
for(var i=S0;i<N;i++){var x=X(i);var y0=yM(0),y1=yM(HIST[i]);el(gm,'rect',{x:x-2.3,y:Math.min(y0,y1),width:4.6,height:Math.max(Math.abs(y1-y0),0.6),fill:'#4a9bcf',stroke:'#2d6e9c','stroke-width':0.7});}
line(SIG,yM,'cMacd','#ee3030',1.3);
line(MACD,yM,'cMacd','#111',1.8);
var gh=el(gS,'g',{'clip-path':'url(#cHist)'});
for(var i=S0;i<N;i++){var x=X(i);var y0=yH(0),y1=yH(HIST[i]);el(gh,'rect',{x:x-2.3,y:Math.min(y0,y1),width:4.6,height:Math.max(Math.abs(y1-y0),0.6),fill:'#4a9bcf',stroke:'#2d6e9c','stroke-width':0.7});}
line(FD,yS,'cSto','#ee3030',1.3);
line(FK,yS,'cSto','#111',1.8);
line(PDI,yA,'cAdx','#3a8a4a',1.3);
line(MDI,yA,'cAdx','#c8405e',1.3);
// ADX (pixel coords), smoothed
var AP=[[15,1080],[27,1086],[50,1084],[70,1080],[90,1060],[110,1043],[128,1036],[140,1038],[160,1050],[180,1070],[200,1080],[220,1090],[240,1098],[260,1100],[273,1103],[300,1107],[320,1110],[340,1115],[367,1115],[383,1110],[400,1100],[420,1085],[440,1068],[460,1056],[485,1047],[500,1052],[520,1063],[540,1073],[560,1083],[580,1092],[600,1100],[620,1106],[640,1110],[660,1102],[680,1090],[700,1075],[720,1062],[740,1052],[760,1047],[780,1060],[800,1075],[820,1087],[837,1095],[853,1100],[862,1101],[877,1088],[885,1087],[900,1092],[917,1100],[927,1104],[935,1103],[950,1095],[967,1086],[983,1075],[1000,1078],[1017,1085],[1033,1091],[1050,1094],[1067,1098],[1083,1103],[1100,1106],[1115,1110]];
var d='M'+AP[0][0]+','+AP[0][1];
for(var i=0;i<AP.length-1;i++){var p0=AP[Math.max(0,i-1)],p1=AP[i],p2=AP[i+1],p3=AP[Math.min(AP.length-1,i+2)];
 var c1x=p1[0]+(p2[0]-p0[0])/6,c1y=p1[1]+(p2[1]-p0[1])/6,c2x=p2[0]-(p3[0]-p1[0])/6,c2y=p2[1]-(p3[1]-p1[1])/6;
 d+='C'+c1x.toFixed(1)+','+c1y.toFixed(1)+' '+c2x.toFixed(1)+','+c2y.toFixed(1)+' '+p2[0]+','+p2[1];}
el(gS,'path',{d:d,fill:'none',stroke:'#111','stroke-width':1.9,'clip-path':'url(#cAdx)','stroke-linejoin':'round'});
})();
</script>
</body></html>
